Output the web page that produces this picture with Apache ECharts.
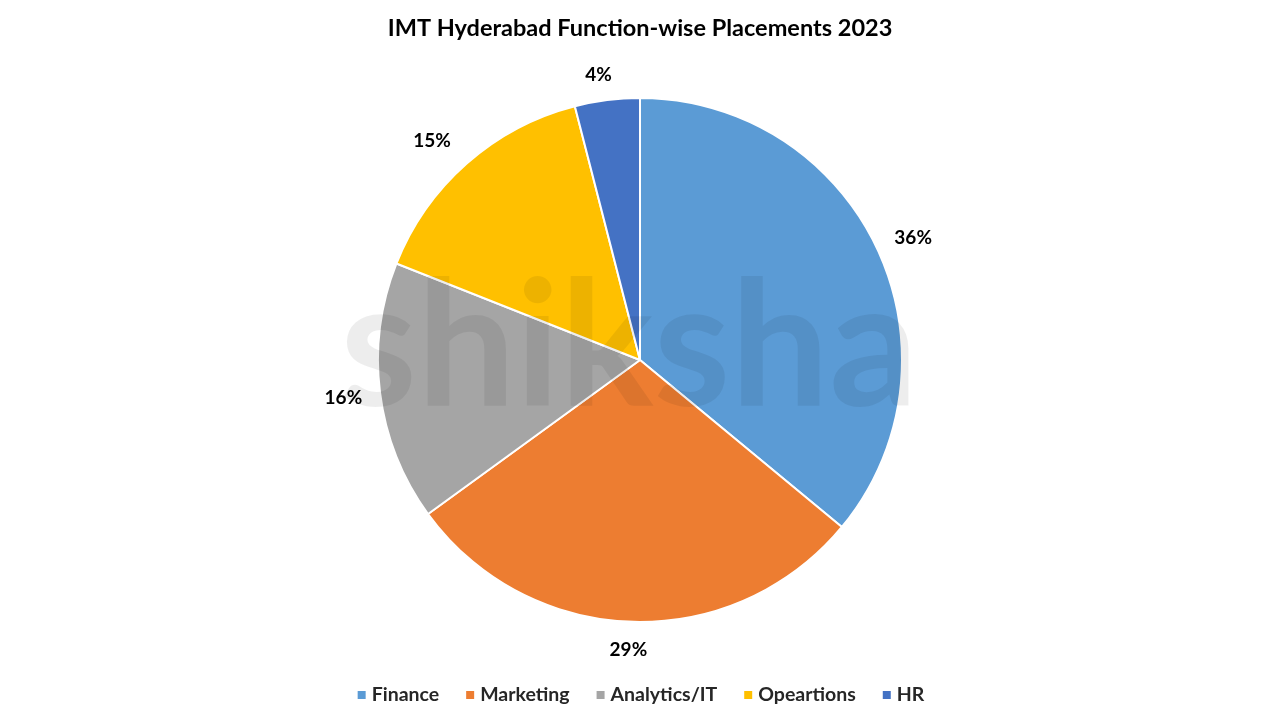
<!DOCTYPE html>
<html>
<head>
<meta charset="utf-8">
<script src="https://cdn.jsdelivr.net/npm/echarts@6/dist/echarts.min.js"></script>
<style>html,body{margin:0;padding:0;background:#fff}#c{width:1280px;height:720px}</style>
</head>
<body>
<div id="c"></div>
<script>
const titleText = 'IMT Hyderabad Function-wise Placements 2023';
const categories = ['Finance', 'Marketing', 'Analytics/IT', 'Opeartions', 'HR'];
const values = [36, 29, 16, 15, 4];
const colors = ['#5B9BD5', '#ED7D31', '#A5A5A5', '#FFC000', '#4472C4'];
const labelOffsets = [[-4, -3], [21, 10], [5, 3], [1, -9], [12, -7]];

const chart = echarts.init(document.getElementById('c'));
chart.setOption({
  backgroundColor: '#ffffff',
  animation: false,
  title: {
    text: titleText, left: 'center', top: 11,
    textStyle: { fontFamily: 'Lato', fontWeight: 'bold', fontSize: 23.5, color: '#000' }
  },
  legend: {
    bottom: 10, left: 'center', itemWidth: 10, itemHeight: 10, itemGap: 25,
    icon: 'rect',
    textStyle: { fontFamily: 'Lato', fontWeight: 'bold', fontSize: 19.5, color: '#262626' },
    data: categories
  },
  graphic: [{
    type: 'text', left: 340, top: 262, z: 100, silent: true,
    style: { text: 'shiksha', font: 'bold 175px Lato', fill: 'rgba(0,0,0,0.07)' }
  }],
  series: [{
    type: 'pie', center: [640, 360], radius: 262, startAngle: 90, clockwise: true,
    avoidLabelOverlap: false,
    itemStyle: { borderColor: '#fff', borderWidth: 2 },
    label: {
      show: true, position: 'outside', formatter: '{c}%',
      fontFamily: 'Lato', fontWeight: 'bold', fontSize: 19, color: '#000'
    },
    labelLine: { show: false, length: 18, length2: 0 },
    data: categories.map((n, i) => ({
      name: n, value: values[i], itemStyle: { color: colors[i] },
      label: { offset: labelOffsets[i] }
    }))
  }]
});
</script>
</body>
</html>
